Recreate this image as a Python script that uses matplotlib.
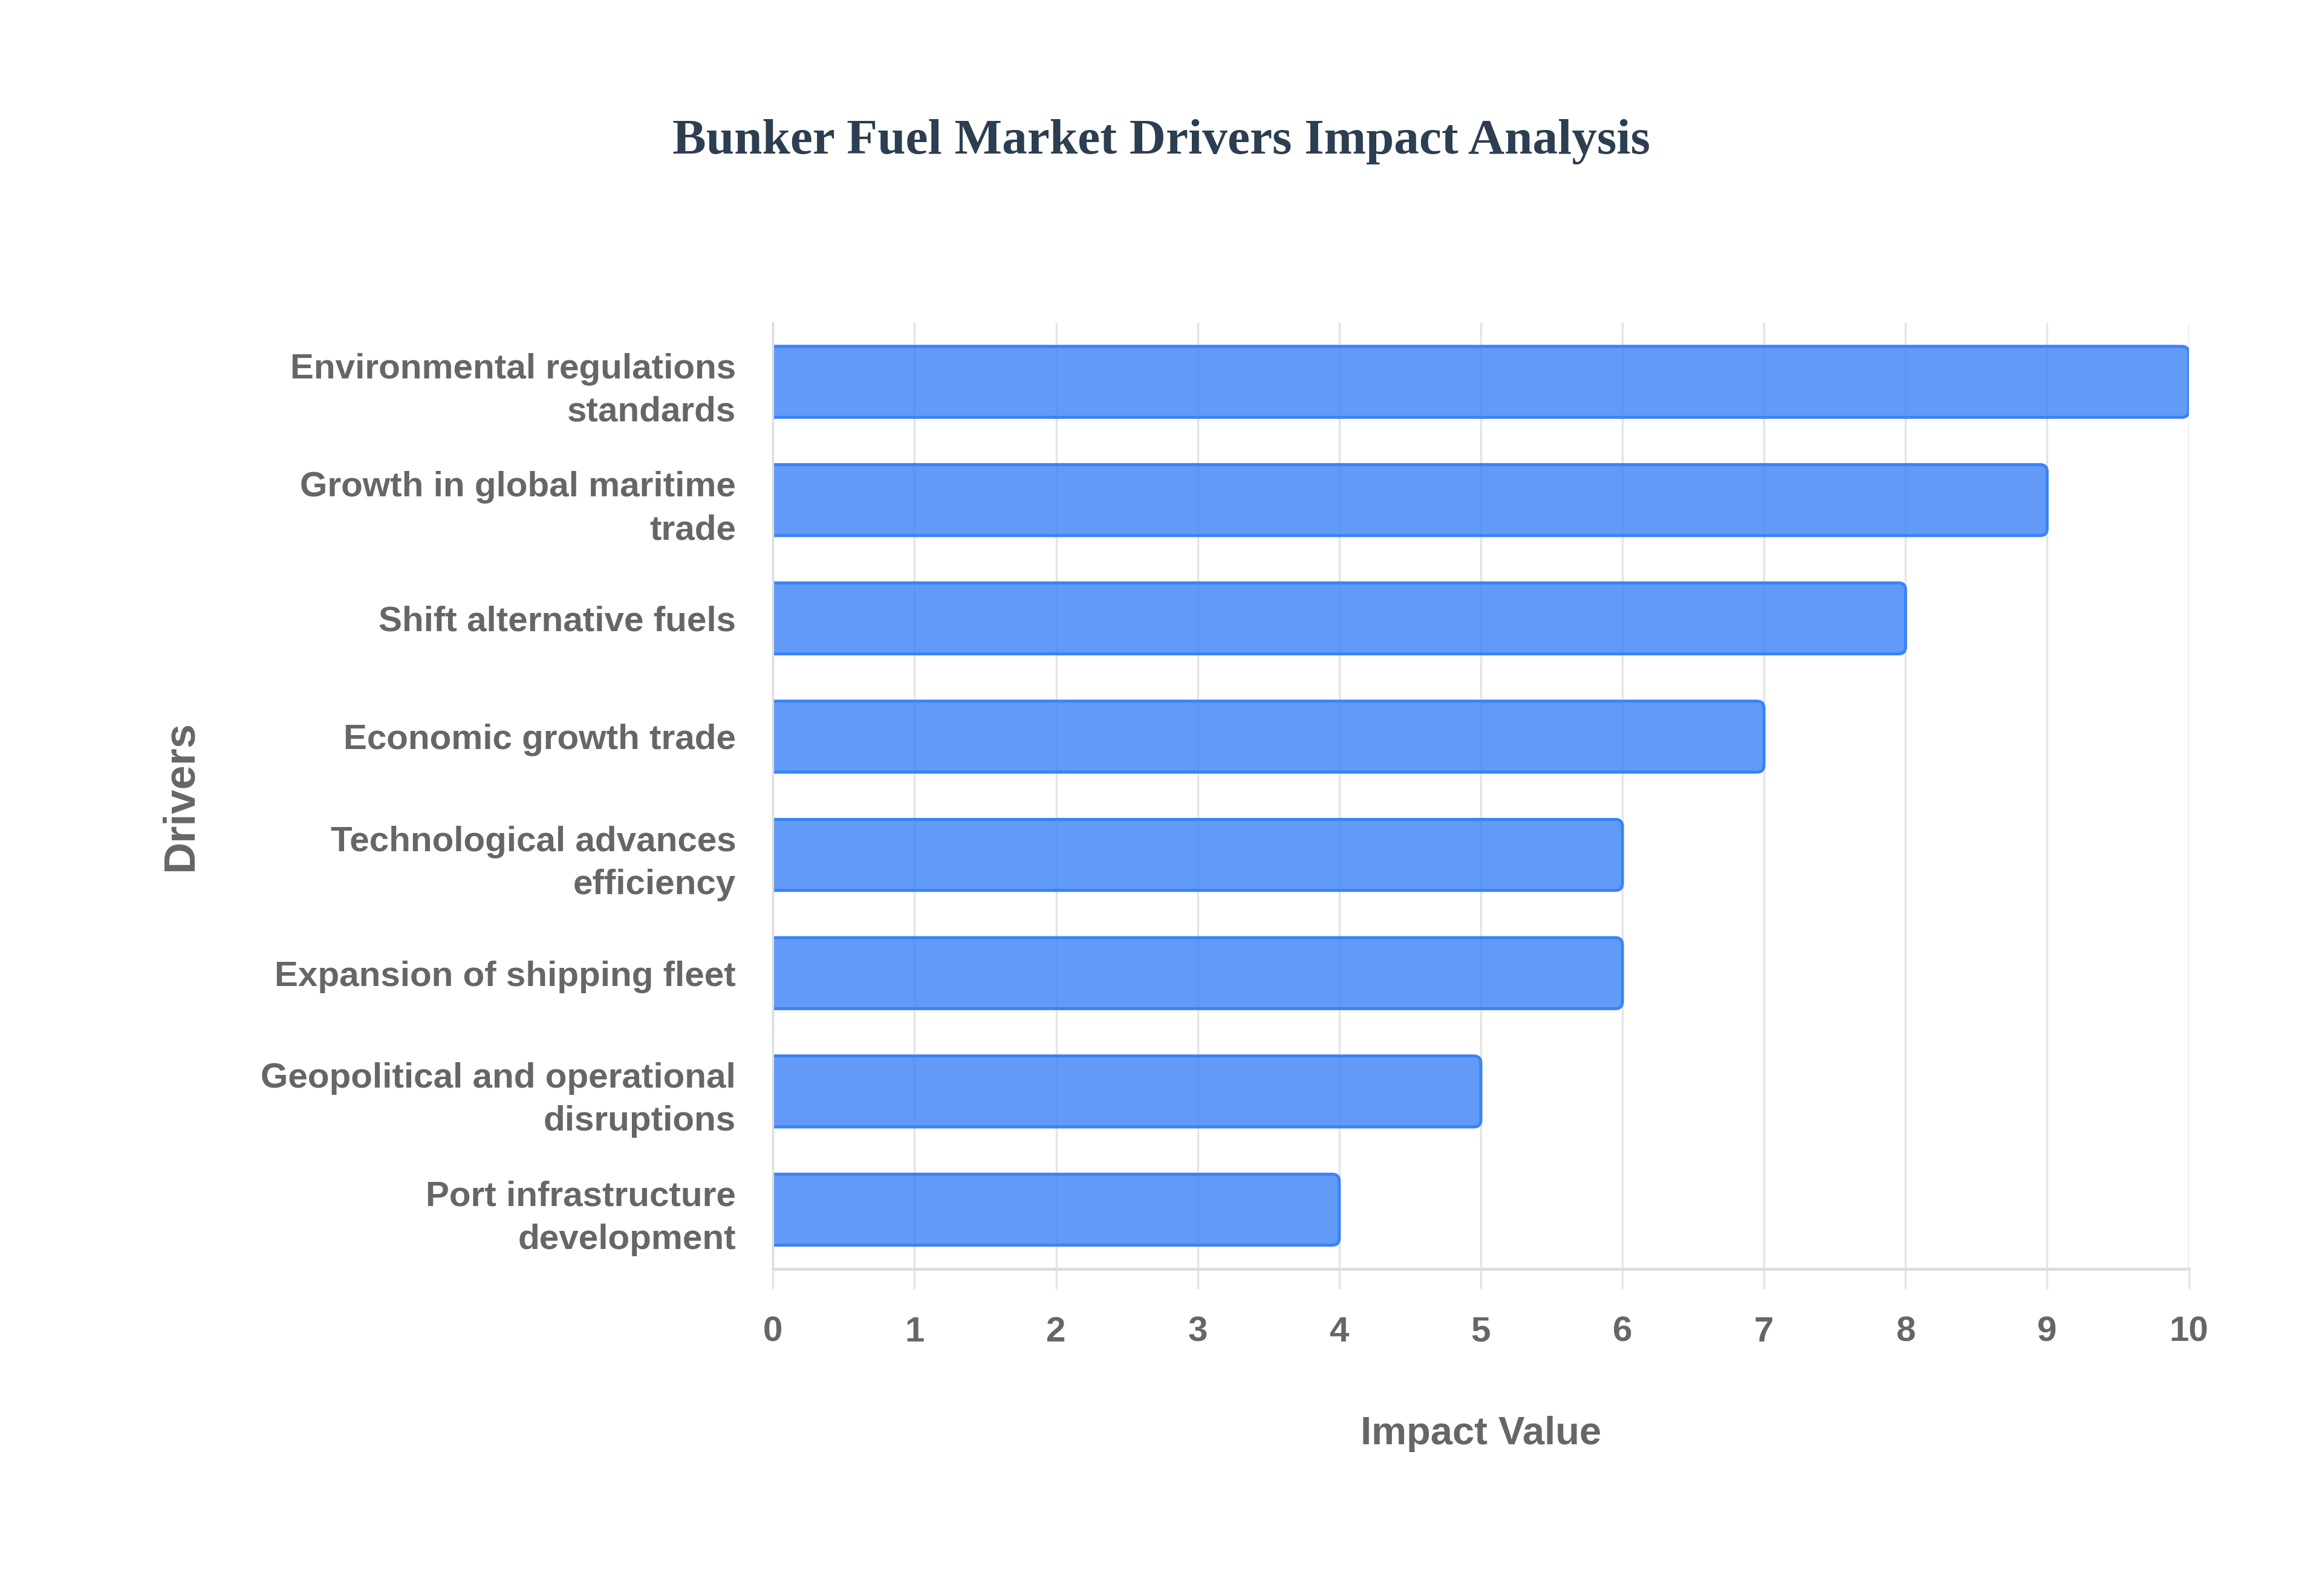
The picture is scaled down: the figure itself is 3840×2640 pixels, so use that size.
import matplotlib
matplotlib.use('Agg')
import matplotlib.pyplot as plt
from matplotlib.patches import FancyBboxPatch

# data
drivers = [
    'Environmental regulations\nstandards',
    'Growth in global maritime\ntrade',
    'Shift alternative fuels',
    'Economic growth trade',
    'Technological advances\nefficiency',
    'Expansion of shipping fleet',
    'Geopolitical and operational\ndisruptions',
    'Port infrastructure\ndevelopment',
]
impact = [10, 9, 8, 7, 6, 6, 5, 4]
xticks = list(range(0, 11))

fill_color = (59/255, 130/255, 246/255, 0.8)
edge_color = '#3B82F6'
grid_color = '#E5E5E5'
text_color = '#666666'

fig = plt.figure(figsize=(19.2, 13.2), dpi=200)
ax = fig.add_axes([0.3329, 0.2050, 0.6097, 0.5928])

ax.set_ylim(len(drivers) - 0.5, -0.5)
ax.set_xlim(0, 10)

ypos = list(range(len(drivers)))
bars = ax.barh(ypos, impact, height=0.6, color=fill_color, edgecolor=edge_color,
               linewidth=1.8, zorder=3)

# rounded right end (left corners pushed past the axis and clipped)
r = 0.05
aspect = 1.2
for b in bars:
    x, y, w, h = b.get_x(), b.get_y(), b.get_width(), b.get_height()
    rounded = FancyBboxPatch((x - 0.2, y), w + 0.2, h,
                             boxstyle=f'round,pad=0,rounding_size={r}',
                             mutation_aspect=aspect, facecolor=fill_color,
                             edgecolor=edge_color, linewidth=1.8, zorder=3)
    ax.add_patch(rounded)
    b.set_visible(False)

ax.set_xticks(xticks)
ax.set_yticks(ypos)
ax.set_yticklabels(drivers, fontfamily='Liberation Sans', fontweight='bold',
                   fontsize=21, color=text_color, linespacing=1.4)
ax.set_xticklabels([str(t) for t in xticks], fontfamily='Liberation Sans',
                   fontweight='bold', fontsize=21, color=text_color)

ax.grid(axis='x', color=grid_color, linewidth=1.2, zorder=0)
ax.tick_params(axis='x', length=12, width=1.2, color=grid_color, pad=16)
ax.tick_params(axis='y', length=0, pad=22)

for side in ['top', 'right']:
    ax.spines[side].set_visible(False)
ax.spines['left'].set_color('#DDDDDD')
ax.spines['left'].set_linewidth(1.2)
ax.spines['left'].set_zorder(4)
ax.spines['bottom'].set_color('#DDDDDD')
ax.spines['bottom'].set_linewidth(1.8)

ax.set_xlabel('Impact Value', fontfamily='Liberation Sans', fontweight='bold',
              fontsize=23.5, color=text_color, labelpad=40)
ax.set_ylabel('Drivers', fontfamily='Liberation Sans', fontweight='bold',
              fontsize=26, color=text_color)
ax.yaxis.set_label_coords(-0.404, 0.5)

fig.text(0.5, 0.911, 'Bunker Fuel Market Drivers Impact Analysis',
         ha='center', va='center', fontfamily='Liberation Serif',
         fontweight='bold', fontsize=30, color='#2C3E50')

fig.savefig('out.png', dpi=200, facecolor='white')
